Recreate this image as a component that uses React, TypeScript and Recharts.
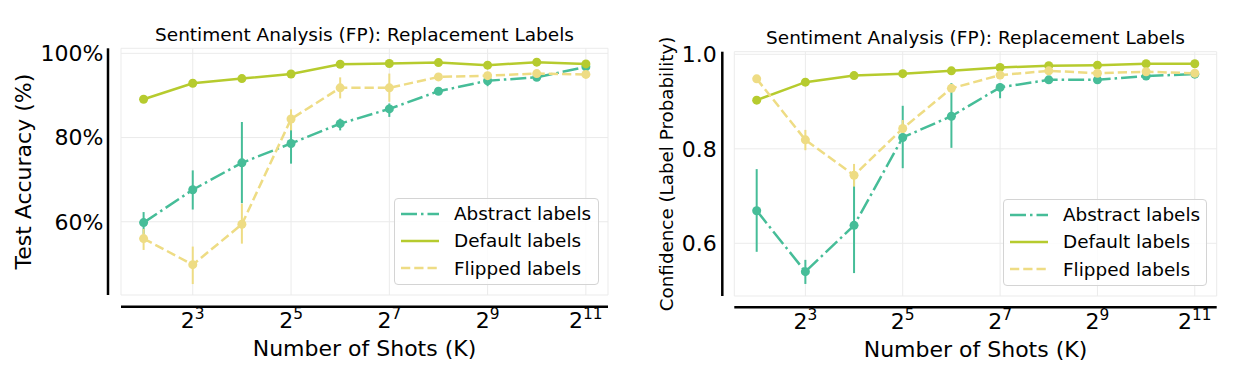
import React from 'react';
import {
    LineChart,
    Line,
    XAxis,
    YAxis,
    CartesianGrid,
    ErrorBar,
    Label,
    usePlotArea
} from 'recharts';

const FONT = '"DejaVu Sans", sans-serif';
const ABSTRACT_COLOR = '#46bd98';
const DEFAULT_COLOR = '#b6cb2e';
const FLIPPED_COLOR = '#eedc84';

// shots per prompt (x axis is log2)
const shots = [4, 8, 16, 32, 64, 128, 256, 512, 1024, 2048];
const xTicks = [8, 32, 128, 512, 2048];
const xDomain = [Math.pow(2, 1.54), Math.pow(2, 11.45)];

const title = 'Sentiment Analysis (FP): Replacement Labels';
const seriesNames = ['Abstract labels', 'Default labels', 'Flipped labels'];

// left panel: test accuracy (%)
const accTicks = [60, 80, 100];
const accAbstract = [59.8, 67.6, 74.0, 78.6, 83.3, 86.8, 91.0, 93.5, 94.3, 96.8];
const accAbstractLo = [57.1, 62.9, 64.4, 73.8, 81.7, 84.9, 90.3, 92.2, 93.6, 96.3];
const accAbstractHi = [62.3, 72.2, 83.7, 83.4, 84.5, 88.1, 91.7, 94.4, 95.0, 97.3];
const accDefault = [89.1, 92.9, 94.0, 95.1, 97.4, 97.6, 97.8, 97.2, 97.9, 97.5];
const accDefaultLo = [88.8, 92.6, 93.7, 94.8, 97.1, 97.3, 97.5, 96.9, 97.6, 97.2];
const accDefaultHi = [89.4, 93.2, 94.3, 95.4, 97.7, 97.9, 98.1, 97.5, 98.2, 97.8];
const accFlipped = [56.0, 49.8, 59.4, 84.4, 91.8, 91.8, 94.4, 94.7, 95.2, 95.0];
const accFlippedLo = [53.3, 45.2, 54.8, 81.7, 89.3, 88.5, 94.0, 94.3, 94.8, 94.6];
const accFlippedHi = [58.3, 54.1, 64.3, 86.7, 94.3, 95.2, 94.8, 95.1, 95.6, 95.4];

// right panel: confidence (label probability)
const confTicks = [0.6, 0.8, 1.0];
const confAbstract = [0.669, 0.540, 0.638, 0.824, 0.869, 0.930, 0.946, 0.946, 0.954, 0.958];
const confAbstractLo = [0.582, 0.514, 0.537, 0.759, 0.802, 0.907, 0.943, 0.943, 0.951, 0.955];
const confAbstractHi = [0.757, 0.565, 0.741, 0.891, 0.939, 0.939, 0.949, 0.949, 0.957, 0.961];
const confDefault = [0.903, 0.941, 0.955, 0.959, 0.965, 0.972, 0.976, 0.977, 0.980, 0.980];
const confDefaultLo = [0.900, 0.938, 0.952, 0.956, 0.962, 0.969, 0.973, 0.974, 0.977, 0.977];
const confDefaultHi = [0.906, 0.944, 0.958, 0.962, 0.968, 0.975, 0.979, 0.980, 0.983, 0.983];
const confFlipped = [0.948, 0.819, 0.744, 0.843, 0.928, 0.956, 0.965, 0.960, 0.963, 0.960];
const confFlippedLo = [0.940, 0.797, 0.720, 0.829, 0.922, 0.953, 0.962, 0.957, 0.960, 0.957];
const confFlippedHi = [0.955, 0.840, 0.768, 0.861, 0.934, 0.959, 0.968, 0.963, 0.966, 0.963];

const buildRows = (
    a: number[], aLo: number[], aHi: number[],
    d: number[], dLo: number[], dHi: number[],
    f: number[], fLo: number[], fHi: number[]
) =>
    shots.map((k, i) => ({
        shots: k,
        abstract: a[i],
        abstractErr: [a[i] - aLo[i], aHi[i] - a[i]],
        default: d[i],
        defaultErr: [d[i] - dLo[i], dHi[i] - d[i]],
        flipped: f[i],
        flippedErr: [f[i] - fLo[i], fHi[i] - f[i]]
    }));

const accRows = buildRows(
    accAbstract, accAbstractLo, accAbstractHi,
    accDefault, accDefaultLo, accDefaultHi,
    accFlipped, accFlippedLo, accFlippedHi
);
const confRows = buildRows(
    confAbstract, confAbstractLo, confAbstractHi,
    confDefault, confDefaultLo, confDefaultHi,
    confFlipped, confFlippedLo, confFlippedHi
);

const styles = [
    { key: 'abstract', color: ABSTRACT_COLOR, dash: '16 4 2.5 4' },
    { key: 'default', color: DEFAULT_COLOR, dash: undefined },
    { key: 'flipped', color: FLIPPED_COLOR, dash: '9.25 4' }
];

const PowTick = (props: any) => {
    const { x, y, payload } = props;
    const exp = Math.round(Math.log2(payload.value));
    return (
        <text x={x} y={y + 33} textAnchor="middle" fontFamily={FONT} fill="#000">
            <tspan fontSize={22}>2</tspan>
            <tspan fontSize={15.4} dy={-9}>{exp}</tspan>
        </text>
    );
};

const makeYTick = (fmt: (v: number) => string) => (props: any) => {
    const { x, y, payload } = props;
    return (
        <text x={x - 17.5} y={y} dy="0.36em" textAnchor="end" fontFamily={FONT} fontSize={22} fill="#000">
            {fmt(payload.value)}
        </text>
    );
};

// offset spines + title, seaborn style
const Frame = ({ gapX, gapY }: { gapX: number; gapY: number }) => {
    const area = usePlotArea();
    if (!area) return null;
    const bottom = area.y + area.height;
    return (
        <g>
            <line x1={area.x - gapX} x2={area.x - gapX} y1={area.y} y2={bottom} stroke="#000" strokeWidth={2.5} />
            <line x1={area.x} x2={area.x + area.width} y1={bottom + gapY} y2={bottom + gapY} stroke="#000" strokeWidth={2.5} />
            <text x={area.x + area.width / 2} y={area.y - 7.5} textAnchor="middle" fontFamily={FONT} fontSize={18.5} fill="#000">
                {title}
            </text>
        </g>
    );
};

const LegendBox = ({ left, top, width }: { left: number; top: number; width: number }) => (
    <div
        style={{
            position: 'absolute',
            left,
            top,
            width,
            height: 87,
            boxSizing: 'border-box',
            border: '1px solid #d4d4d4',
            borderRadius: 4,
            background: 'rgba(255,255,255,0.85)',
            paddingTop: 1,
            fontFamily: FONT,
            fontSize: 18.4,
            color: '#000'
        }}
    >
        {styles.map((s, i) => (
            <div key={s.key} style={{ display: 'flex', alignItems: 'center', height: 27.3, paddingLeft: 6 }}>
                <svg width={38} height={6}>
                    <line x1={0} x2={38} y1={3} y2={3} stroke={s.color} strokeWidth={2.5} strokeDasharray={s.dash} />
                </svg>
                <span style={{ marginLeft: 15, whiteSpace: 'nowrap' }}>{seriesNames[i]}</span>
            </div>
        ))}
    </div>
);

interface PanelProps {
    data: any[];
    width: number;
    yWidth: number;
    xHeight: number;
    top: number;
    right: number;
    yDomain: number[];
    yTicks: number[];
    yFmt: (v: number) => string;
    yLabel: string;
    yLabelX: number;
    yLabelSize: number;
    gapX: number;
    gapY: number;
}

const Panel: React.FC<PanelProps> = (p) => (
    <LineChart width={p.width} height={371} data={p.data} margin={{ top: p.top, right: p.right, bottom: 0, left: 0 }}>
        <CartesianGrid stroke="#ebebeb" strokeWidth={1} />
        <XAxis
            dataKey="shots"
            type="number"
            scale="log"
            domain={xDomain}
            allowDataOverflow
            ticks={xTicks}
            interval={0}
            axisLine={false}
            tickLine={false}
            tickSize={0}
            tickMargin={0}
            height={p.xHeight}
            tick={<PowTick />}
        >
            <Label
                content={(lp: any) => {
                    const vb = lp.viewBox || {};
                    return (
                        <text x={vb.x + vb.width / 2} y={vb.y + 61} textAnchor="middle" fontFamily={FONT} fontSize={22} fill="#000">
                            Number of Shots (K)
                        </text>
                    );
                }}
            />
        </XAxis>
        <YAxis
            type="number"
            domain={p.yDomain}
            allowDataOverflow
            ticks={p.yTicks}
            interval={0}
            axisLine={false}
            tickLine={false}
            tickSize={0}
            tickMargin={0}
            width={p.yWidth}
            tick={makeYTick(p.yFmt)}
        >
            <Label
                content={(lp: any) => {
                    const vb = lp.viewBox || {};
                    const cy = vb.y + vb.height / 2;
                    return (
                        <text
                            x={p.yLabelX}
                            y={cy}
                            transform={`rotate(-90 ${p.yLabelX} ${cy})`}
                            textAnchor="middle"
                            fontFamily={FONT}
                            fontSize={p.yLabelSize}
                            fill="#000"
                        >
                            {p.yLabel}
                        </text>
                    );
                }}
            />
        </YAxis>
        {styles.map((s) => (
            <Line
                key={s.key}
                dataKey={s.key}
                stroke={s.color}
                strokeWidth={2.5}
                strokeDasharray={s.dash}
                dot={{ r: 4.5, fill: s.color, stroke: s.color, strokeWidth: 0 }}
                activeDot={false}
                isAnimationActive={false}
            >
                <ErrorBar dataKey={`${s.key}Err`} width={0} stroke={s.color} strokeWidth={2} direction="y" />
            </Line>
        ))}
        <Frame gapX={p.gapX} gapY={p.gapY} />
    </LineChart>
);

const App: React.FC = () => (
    <div style={{ position: 'absolute', left: 0, top: 0, width: 1237, height: 371, background: '#fff' }}>
        <div style={{ position: 'absolute', left: 0, top: 0 }}>
            <Panel
                data={accRows}
                width={620}
                yWidth={121}
                xHeight={76}
                top={48.3}
                right={12}
                yDomain={[42.6, 101.2]}
                yTicks={accTicks}
                yFmt={(v) => `${v}%`}
                yLabel="Test Accuracy (%)"
                yLabelX={31}
                yLabelSize={22}
                gapX={13}
                gapY={11.7}
            />
            <LegendBox left={394} top={198} width={205} />
        </div>
        <div style={{ position: 'absolute', left: 620, top: 0 }}>
            <Panel
                data={confRows}
                width={617}
                yWidth={114.3}
                xHeight={75}
                top={51.7}
                right={20.3}
                yDomain={[0.4885, 1.0055]}
                yTicks={confTicks}
                yFmt={(v) => v.toFixed(1)}
                yLabel="Confidence (Label Probability)"
                yLabelX={53}
                yLabelSize={18.3}
                gapX={12}
                gapY={11.3}
            />
            <LegendBox left={383} top={199} width={204} />
        </div>
    </div>
);

export default App;
